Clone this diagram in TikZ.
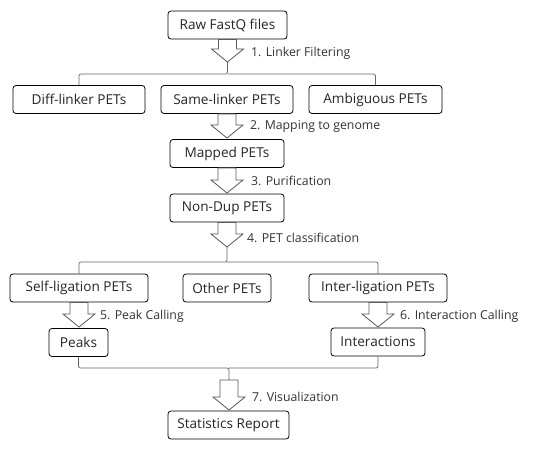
\documentclass[tikz,border=0pt]{standalone}
\usepackage{fontspec}
\setmainfont{Open Sans}
\usetikzlibrary{calc}
\newcommand{\hollowarrow}[2]{%
  \draw[hollow] let \p1=(#1), \p2=(#2) in
    (\x1-9pt,\y1) -- (\x1-9pt,\y2+13pt) -- (\x1-16pt,\y2+13pt) -- (\x1,\y2)
    -- (\x1+16pt,\y2+13pt) -- (\x1+9pt,\y2+13pt) -- (\x1+9pt,\y1) -- cycle;}
\begin{document}
\begin{tikzpicture}[x=1pt, y=-1pt,
    box/.style={draw=black, thick, rounded corners=3pt, minimum height=28pt, inner xsep=4pt, font=\fontsize{13.6}{16}\selectfont, text=black!85},
    hollow/.style={draw=black!65, line width=0.8pt, fill=white, line join=miter},
    bracket/.style={draw=black!60, line width=0.7pt, rounded corners=2pt},
    step label/.style={anchor=west, inner sep=0pt, font=\fontsize{12.3}{14}\selectfont, text=black!80}]
    \useasboundingbox[fill=white] (0,0) rectangle (550,450);

    \node[box, minimum width=119pt](raw) at (227.5, 25) {Raw FastQ files};
    \node[box, minimum width=132pt](diff) at (79, 99.5) {Diff-linker PETs};
    \node[box, minimum width=132pt](same) at (227, 99.5) {Same-linker PETs};
    \node[box, minimum width=133pt](ambig) at (375.5, 99.5) {Ambiguous PETs};
    \node[box, minimum width=114pt](mapped) at (227, 153.5) {Mapped PETs};
    \node[box, minimum width=114pt](nondup) at (227, 208) {Non-Dup PETs};
    \node[box, minimum width=138pt](self) at (79, 288) {Self-ligation PETs};
    \node[box, minimum width=88pt](other) at (227, 288) {Other PETs};
    \node[box, minimum width=138pt](inter) at (378, 288) {Inter-ligation PETs};
    \node[box, minimum width=59pt](peaks) at (78.5, 342.5) {Peaks};
    \node[box, minimum width=94pt](interact) at (378, 342) {Interactions};
    \node[box, minimum width=121pt](stats) at (228.5, 425) {Statistics Report};

    % arrow tips and bracket joints
    \coordinate (t1) at (raw.south |- 0,62);
    \coordinate (j1) at (raw.south |- 0,74);
    \coordinate (t2) at (same.south |- 0,138);
    \coordinate (t3) at (mapped.south |- 0,193);
    \coordinate (t4) at (nondup.south |- 0,247);
    \coordinate (j4) at (nondup.south |- 0,262);
    \coordinate (t5) at (self.south |- 0,327);
    \coordinate (t6) at (inter.south |- 0,327);
    \coordinate (j7) at (229, 368);
    \coordinate (s7) at (229, 380);
    \coordinate (t7) at (229, 410);

    % brackets
    \draw[bracket] (t1) -- (j1) -| (diff.north);
    \draw[bracket] (j1) -| (ambig.north);
    \draw[bracket] (t4) -- (j4) -| (self.north);
    \draw[bracket] (j4) -| (inter.north);
    \draw[bracket] (peaks.south) |- (j7) -- (s7);
    \draw[bracket] (interact.south) |- (j7);

    % hollow arrows
    \hollowarrow{raw.south}{t1}
    \hollowarrow{same.south}{t2}
    \hollowarrow{mapped.south}{t3}
    \hollowarrow{nondup.south}{t4}
    \hollowarrow{self.south}{t5}
    \hollowarrow{inter.south}{t6}
    \hollowarrow{s7}{t7}

    \node[step label](l1) at (251, 53) {1. Linker Filtering};
    \node[step label](l2) at (250, 126) {2. Mapping to genome};
    \node[step label](l3) at (251, 181) {3. Purification};
    \node[step label](l4) at (247, 238) {4. PET classification};
    \node[step label](l5) at (100, 316) {5. Peak Calling};
    \node[step label](l6) at (400, 316) {6. Interaction Calling};
    \node[step label](l7) at (252, 397) {7. Visualization};
\end{tikzpicture}
\end{document}
